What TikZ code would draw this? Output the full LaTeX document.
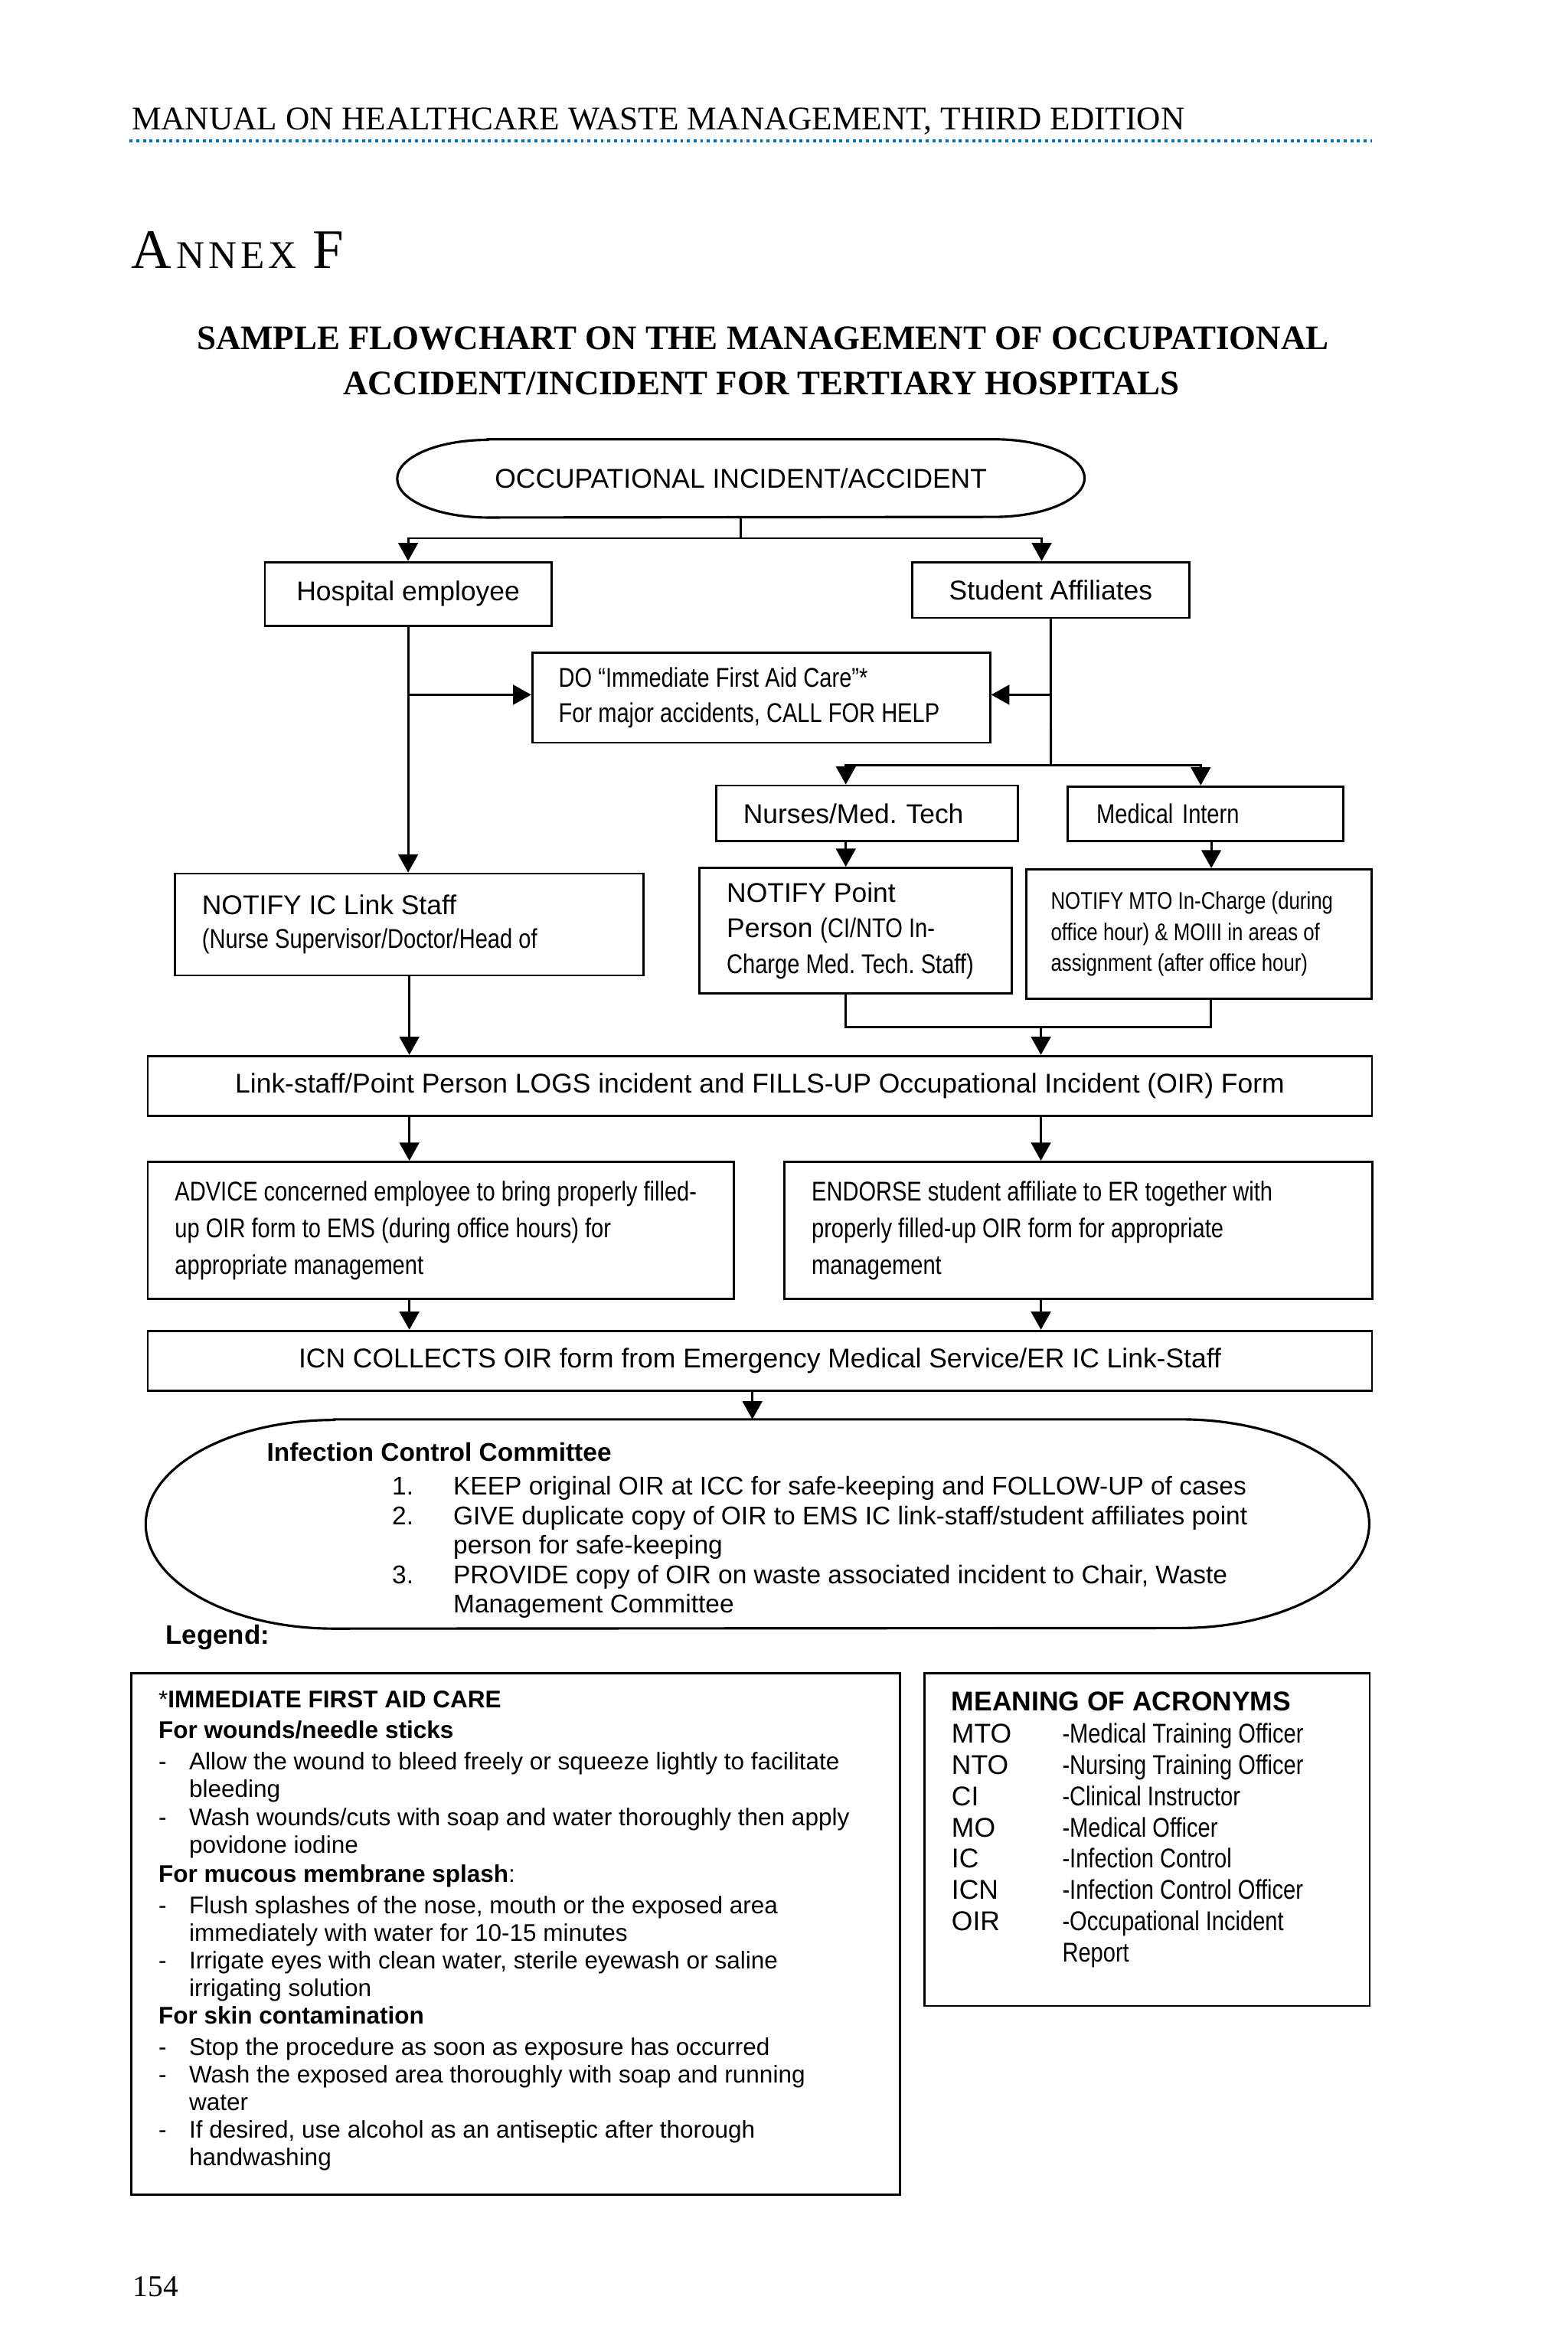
\documentclass[tikz,border=0pt]{standalone}
\usepackage{fontspec}
\setmainfont{Liberation Sans}
\newfontfamily\narrowfont[FakeStretch=0.82]{Liberation Sans}
\newfontfamily\headfont{Liberation Serif}
\usetikzlibrary{arrows.meta}
\definecolor{rulecolor}{RGB}{0,112,192}
\newcommand{\boxlines}[1]{\noindent\spaceskip=0pt\xspaceskip=0pt\begin{tabular}{@{}l@{}}#1\end{tabular}}
\frenchspacing

\begin{document}
\begin{tikzpicture}[x=1pt, y=-1pt,
    box/.style={draw, line width=1.4pt, inner ysep=0pt, inner xsep=18pt},
    lbox/.style={box, align=left},
    arr/.style={-{Triangle[length=12pt,width=13pt]}, line width=1.5pt},
    wire/.style={line width=1.5pt},
    outline/.style={line width=1.6pt},
    bodytext/.style={font=\fontsize{18}{23.75}\selectfont},
    narrowtext/.style={font=\narrowfont\fontsize{18}{#1}\selectfont}]
    \useasboundingbox (0,0) rectangle (1040,1560);

    % page head
    \node[anchor=base west, inner sep=0, font=\headfont\fontsize{22}{24}\selectfont] (runhead) at (87.2,86.3) {MANUAL ON HEALTHCARE WASTE MANAGEMENT, THIRD EDITION};
    \draw[draw=rulecolor, line width=2pt, dash pattern=on 2pt off 2.4pt] (86,93.5) -- (910,93.5);
    \node[anchor=base west, inner sep=0, font=\headfont] (annex) at (87,177.8) {{\fontsize{37}{40}\selectfont A}\kern3pt{\fontsize{26}{28}\selectfont N\kern2.5pt N\kern2.5pt E\kern2.5pt X}\kern11pt{\fontsize{37}{40}\selectfont F}};
    \node[anchor=base, inner sep=0, font=\headfont\bfseries\fontsize{22.8}{26}\selectfont] (title1) at (506,232) {SAMPLE FLOWCHART ON THE MANAGEMENT OF OCCUPATIONAL};
    \node[anchor=base, inner sep=0, font=\headfont\bfseries\fontsize{22.8}{26}\selectfont] (title2) at (505,262) {ACCIDENT/INCIDENT FOR TERTIARY HOSPITALS};

    % start
    \node[inner sep=0, minimum width=455.5, minimum height=51.5, bodytext] (inc) at (491.4,317.3) {OCCUPATIONAL INCIDENT/ACCIDENT};
    \draw[outline] ([xshift=60pt]inc.north west) -- ([xshift=-60pt]inc.north east)
        arc[start angle=90, end angle=-90, x radius=60pt, y radius=25.75pt]
        -- ([xshift=60pt]inc.south west)
        arc[start angle=270, end angle=90, x radius=60pt, y radius=25.75pt] -- cycle;

    % boxes
    \node[box, bodytext, minimum width=190, minimum height=42.2] (hosp) at (270.7,393.9) {Hospital employee};
    \node[box, bodytext, minimum width=183.7, minimum height=36.9] (stud) at (696.9,391.3) {Student Affiliates};
    \node[lbox, narrowtext=23.5, text width=268.7, inner xsep=17.5pt, minimum height=59.6] (aid) at (504.9,462.8) {\boxlines{DO “Immediate First Aid Care”*\\For major accidents, CALL FOR HELP}};
    \node[lbox, bodytext, text width=164, minimum height=37] (nurse) at (575,539.5) {Nurses/Med. Tech};
    \node[lbox, narrowtext=22, text width=144.2, inner xsep=19.3pt, minimum height=36.4] (intern) at (799.4,539.8) {Medical Intern};
    \node[lbox, bodytext, text width=171, minimum height=83.4] (point) at (567.5,617.3) {\boxlines{NOTIFY Point\\Person {\narrowfont(CI/NTO In-}\\{\narrowfont Charge Med. Tech. Staff)}}};
    \node[lbox, font=\narrowfont\fontsize{16}{20.75}\selectfont, text width=196.2, inner xsep=16.4pt, minimum height=86] (mto) at (795.1,619.5) {\boxlines{NOTIFY MTO In-Charge (during\\office hour) \& MOIII in areas of\\assignment (after office hour)}};
    \node[lbox, font=\fontsize{18}{22.8}\selectfont, text width=275, minimum height=67.6] (iclink) at (271.5,613.2) {\boxlines{NOTIFY IC Link Staff\\{\narrowfont(Nurse Supervisor/Doctor/Head of}}};
    \node[box, bodytext, minimum width=812, minimum height=39.9] (logs) at (504,720.3) {Link-staff/Point Person LOGS incident and FILLS-UP Occupational Incident (OIR) Form};
    \node[lbox, narrowtext=24.35, text width=352.6, minimum height=90.9] (advice) at (292.3,816) {\boxlines{ADVICE concerned employee to bring properly filled-\\up OIR form to EMS (during office hours) for\\appropriate management}};
    \node[lbox, narrowtext=24.35, text width=353.7, minimum height=90.9] (endorse) at (715.2,816) {\boxlines{ENDORSE student affiliate to ER together with\\properly filled-up OIR form for appropriate\\management}};
    \node[box, bodytext, minimum width=812, minimum height=39.7] (icn) at (504,902.5) {ICN COLLECTS OIR form from Emergency Medical Service/ER IC Link-Staff};

    % committee
    \node[inner sep=0, minimum width=811.1, minimum height=138.4] (icc) at (502.4,1010.8) {};
    \draw[outline] ([xshift=125pt]icc.north west) -- ([xshift=-125pt]icc.north east)
        arc[start angle=90, end angle=-90, x radius=125pt, y radius=69.2pt]
        -- ([xshift=125pt]icc.south west)
        arc[start angle=270, end angle=90, x radius=125pt, y radius=69.2pt] -- cycle;
    \node[anchor=north west, inner sep=0, font=\fontsize{17}{19.55}\selectfont] (icclist) at (176.8,955.3) {\boxlines{\textbf{Infection Control Committee}\\[2.85pt]
        \hspace*{83.1pt}\makebox[40.6pt][l]{1.}KEEP original OIR at ICC for safe-keeping and FOLLOW-UP of cases\\
        \hspace*{83.1pt}\makebox[40.6pt][l]{2.}GIVE duplicate copy of OIR to EMS IC link-staff/student affiliates point\\
        \hspace*{123.7pt}person for safe-keeping\\
        \hspace*{83.1pt}\makebox[40.6pt][l]{3.}PROVIDE copy of OIR on waste associated incident to Chair, Waste\\
        \hspace*{123.7pt}Management Committee}};

    % connectors
    \coordinate (fork1) at (491.4,357);
    \coordinate (fork2) at (697,507.5);
    \coordinate (merge) at (690.4,681);
    \draw[wire] (inc.south) -- (fork1);
    \draw[arr] (fork1) -| (hosp.north);
    \draw[arr] (fork1) -| ([xshift=-6pt]stud.north);
    \draw[arr] (hosp.south) -- (hosp.south |- iclink.north);
    \draw[arr] (hosp.south |- aid.west) ++(0,-2) -- ([yshift=2pt]aid.west);
    \draw[wire] (stud.south) -- (fork2);
    \draw[arr] (stud.south |- aid.east) ++(0,-2) -- ([yshift=2pt]aid.east);
    \draw[arr] (fork2) -| ([xshift=-14pt]nurse.north);
    \draw[arr] (fork2) -| ([xshift=-3pt]intern.north);
    \draw[arr] ([xshift=-14pt]nurse.south) -- ([xshift=-14pt]nurse.south |- point.north);
    \draw[arr] ([xshift=4pt]intern.south) -- ([xshift=4pt]intern.south |- mto.north);
    \draw[arr] (iclink.south) -- (iclink.south |- logs.north);
    \draw[wire] ([xshift=-6.5pt]point.south) |- (merge) -| ([xshift=8pt]mto.south);
    \draw[arr] (merge) -- (merge |- logs.north);
    \draw[arr] (logs.south -| iclink.south) -- (advice.north -| iclink.south);
    \draw[arr] (logs.south -| merge) -- (endorse.north -| merge);
    \draw[arr] (advice.south -| iclink.south) -- (icn.north -| iclink.south);
    \draw[arr] (endorse.south -| merge) -- (icn.north -| merge);
    \draw[arr] ([xshift=-5pt]icn.south) -- ([xshift=-5pt]icn.south |- icc.north);

    % legend
    \node[anchor=base west, inner sep=0, font=\bfseries\fontsize{17.7}{20}\selectfont] (legend) at (109.7,1090.7) {Legend:};
    \node[box, anchor=north west, minimum width=510, minimum height=346] (firstaid) at (86.3,1109) {};
    \node[anchor=north west, inner sep=0, font=\fontsize{16}{18.3}\selectfont] (firstaidtext) at (105,1119.8) {\boxlines{*\textbf{IMMEDIATE FIRST AID CARE}\\[1.9pt]
        \textbf{For wounds/needle sticks}\\[2.7pt]
        \makebox[20.3pt][l]{-}Allow the wound to bleed freely or squeeze lightly to facilitate\\
        \hspace*{20.3pt}bleeding\\
        \makebox[20.3pt][l]{-}Wash wounds/cuts with soap and water thoroughly then apply\\
        \hspace*{20.3pt}povidone iodine\\[1pt]
        \textbf{For mucous membrane splash}:\\[2.5pt]
        \makebox[20.3pt][l]{-}Flush splashes of the nose, mouth or the exposed area\\
        \hspace*{20.3pt}immediately with water for 10-15 minutes\\
        \makebox[20.3pt][l]{-}Irrigate eyes with clean water, sterile eyewash or saline\\
        \hspace*{20.3pt}irrigating solution\\
        \textbf{For skin contamination}\\[2.5pt]
        \makebox[20.3pt][l]{-}Stop the procedure as soon as exposure has occurred\\
        \makebox[20.3pt][l]{-}Wash the exposed area thoroughly with soap and running\\
        \hspace*{20.3pt}water\\
        \makebox[20.3pt][l]{-}If desired, use alcohol as an antiseptic after thorough\\
        \hspace*{20.3pt}handwashing}};
    \node[box, anchor=north west, minimum width=295.4, minimum height=220.5] (acro) at (612.4,1109.2) {};
    \node[anchor=north west, inner sep=0, font=\fontsize{18}{20.7}\selectfont] (acrolist) at (631,1120.2) {\boxlines{\textbf{MEANING OF ACRONYMS}\\[0.6pt]
        \makebox[73.4pt][l]{MTO}{\narrowfont -Medical Training Officer}\\
        \makebox[73.4pt][l]{NTO}{\narrowfont -Nursing Training Officer}\\
        \makebox[73.4pt][l]{CI}{\narrowfont -Clinical Instructor}\\
        \makebox[73.4pt][l]{MO}{\narrowfont -Medical Officer}\\
        \makebox[73.4pt][l]{IC}{\narrowfont -Infection Control}\\
        \makebox[73.4pt][l]{ICN}{\narrowfont -Infection Control Officer}\\
        \makebox[73.4pt][l]{OIR}{\narrowfont -Occupational Incident}\\
        \hspace*{73.4pt}{\narrowfont Report}}};

    \node[anchor=base west, inner sep=0, font=\headfont\fontsize{20}{24}\selectfont] (pageno) at (88,1523) {154};
\end{tikzpicture}
\end{document}
